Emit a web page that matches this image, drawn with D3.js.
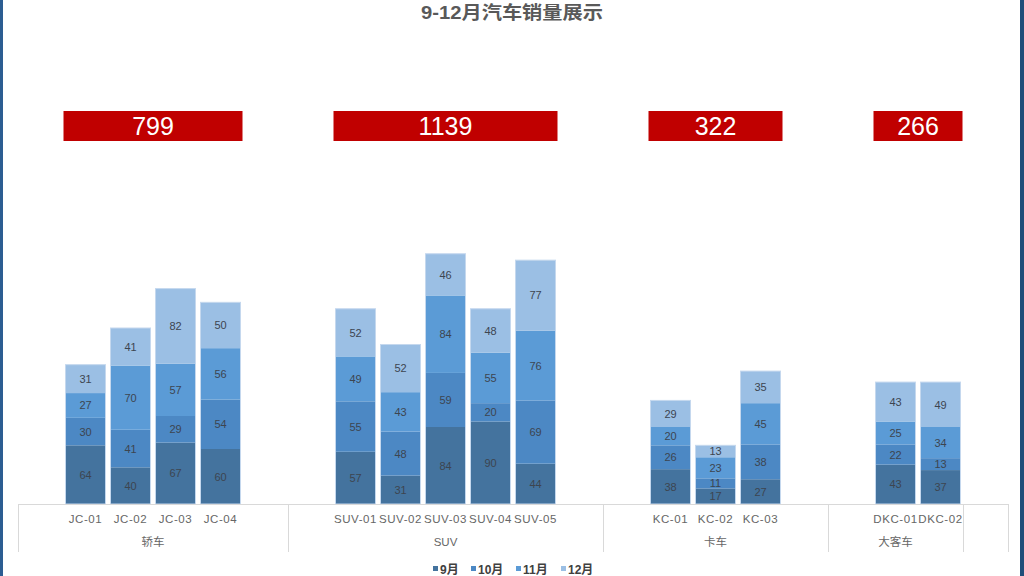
<!DOCTYPE html>
<html>
<head>
<meta charset="utf-8">
<script src="https://cdn.jsdelivr.net/npm/d3@7"></script>
<style>
  html, body { margin: 0; padding: 0; background: #fff; }
  svg { display: block; font-family: "Liberation Sans", Arial, "Noto Sans CJK SC", sans-serif; }
</style>
</head>
<body>
<svg width="1024" height="576"></svg>
<script>
// 9-12月汽车销量展示 -- stacked bars grouped by vehicle type
var svg = d3.select('svg');
var svgWidth = +svg.attr('width');
var svgHeight = +svg.attr('height');

// ---- data ----
var groups = ["轿车", "SUV", "卡车", "大客车"];
var models = [
  ["JC-01", "JC-02", "JC-03", "JC-04"],
  ["SUV-01", "SUV-02", "SUV-03", "SUV-04", "SUV-05"],
  ["KC-01", "KC-02", "KC-03"],
  ["DKC-01", "DKC-02"]
];
var months = ["9月", "10月", "11月", "12月"];
var sep = [64, 40, 67, 60, 57, 31, 84, 90, 44, 38, 17, 27, 43, 37];
var oct = [30, 41, 29, 54, 55, 48, 59, 20, 69, 26, 11, 38, 22, 13];
var nov = [27, 70, 57, 56, 49, 43, 84, 55, 76, 20, 23, 45, 25, 34];
var dec = [31, 41, 82, 50, 52, 52, 46, 48, 77, 29, 13, 35, 43, 49];
var colors = ["#44739e", "#4c88c4", "#5b9bd6", "#9bbfe4"];

// build slot list: blank slot before each group, blank after (last group gets a separate tail slot)
var slots = [];      // {model, idx} or null
var groupSpans = []; // {name, start, end}
var k = 0;
groups.forEach(function (g, gi) {
  var start = slots.length;
  slots.push(null);
  models[gi].forEach(function (m) { slots.push({ model: m, idx: k++ }); });
  if (gi < groups.length - 1) slots.push(null);
  groupSpans.push({ name: g, start: start, end: slots.length });
});
var tailStart = slots.length;
slots.push(null);
groupSpans.push({ name: "", start: tailStart, end: slots.length });

var rows = [];
slots.forEach(function (s, i) {
  if (s) rows.push({ slot: i, model: s.model, "9月": sep[s.idx], "10月": oct[s.idx], "11月": nov[s.idx], "12月": dec[s.idx] });
});

var stacked = d3.stack().keys(months)(rows);

// ---- scales ----
var x = d3.scaleBand().domain(d3.range(slots.length)).range([18, 1008]).padding(0);
var y = d3.scaleLinear().domain([0, 300]).range([504, 229]);
var barPad = 2.5;
var bw = x.bandwidth() - barPad * 2;

// frame borders
svg.append('rect').attr('x', 0).attr('y', 0).attr('width', 3).attr('height', svgHeight).attr('fill', '#2c5d92');
svg.append('rect').attr('x', 1020).attr('y', 0).attr('width', 4).attr('height', svgHeight).attr('fill', '#1f4e79');

// title
svg.append('text')
  .attr('x', 512).attr('y', 19)
  .attr('text-anchor', 'middle')
  .attr('font-size', 18).attr('font-weight', 'bold')
  .attr('fill', '#595959')
  .attr('textLength', 182).attr('lengthAdjust', 'spacingAndGlyphs')
  .text('9-12月汽车销量展示');

// bars
var layer = svg.append('g').selectAll('g')
  .data(stacked)
  .enter().append('g')
  .attr('fill', function (d, i) { return colors[i]; });

layer.selectAll('rect')
  .data(function (d) { return d; })
  .enter().append('rect')
  .attr('x', function (d) { return x(d.data.slot) + barPad; })
  .attr('y', function (d) { return y(d[1]); })
  .attr('width', bw)
  .attr('height', function (d) { return y(d[0]) - y(d[1]); });

// outline of each full bar
svg.append('g').selectAll('rect')
  .data(rows)
  .enter().append('rect')
  .attr('x', function (d) { return x(d.slot) + barPad; })
  .attr('y', function (d) { return y(d3.sum(months, function (m) { return d[m]; })); })
  .attr('width', bw)
  .attr('height', function (d) { return 504 - y(d3.sum(months, function (m) { return d[m]; })); })
  .attr('fill', 'none').attr('stroke', '#c5d8ee').attr('stroke-width', 1);

// segment labels
layer.selectAll('text')
  .data(function (d) { return d; })
  .enter().append('text')
  .attr('x', function (d) { return x(d.data.slot) + x.bandwidth() / 2; })
  .attr('y', function (d) { return (y(d[0]) + y(d[1])) / 2 + 4; })
  .attr('text-anchor', 'middle')
  .attr('font-size', 11)
  .attr('fill', '#3d4550')
  .text(function (d) { return d[1] - d[0]; });

// category axis
var axisCol = '#d9d9d9';
svg.append('line').attr('x1', 18).attr('x2', 1008).attr('y1', 504.5).attr('y2', 504.5).attr('stroke', axisCol);
var bounds = [0].concat(groupSpans.map(function (g) { return g.end; }));
svg.append('g').selectAll('line')
  .data(bounds)
  .enter().append('line')
  .attr('x1', function (b) { return Math.round(18 + b * x.step()) + 0.5; })
  .attr('x2', function (b) { return Math.round(18 + b * x.step()) + 0.5; })
  .attr('y1', 504).attr('y2', 552)
  .attr('stroke', axisCol);

svg.append('g').selectAll('text')
  .data(rows)
  .enter().append('text')
  .attr('x', function (d) { return x(d.slot) + x.bandwidth() / 2; })
  .attr('y', 523)
  .attr('text-anchor', 'middle')
  .attr('font-size', 11.5)
  .attr('letter-spacing', 0.6)
  .attr('fill', '#666')
  .text(function (d) { return d.model; });

svg.append('g').selectAll('text')
  .data(groupSpans.filter(function (g) { return g.name; }))
  .enter().append('text')
  .attr('x', function (g) { return 18 + (g.start + g.end) / 2 * x.step(); })
  .attr('y', 546)
  .attr('text-anchor', 'middle')
  .attr('font-size', 11.5)
  .attr('fill', '#666')
  .text(function (g) { return g.name; });

// group totals in red boxes
var totals = groupSpans.filter(function (g) { return g.name; }).map(function (g) {
  var r = rows.filter(function (d) { return d.slot > g.start && d.slot < g.end; });
  return {
    left: x(r[0].slot) + barPad - 2,
    right: x(r[r.length - 1].slot) + barPad + bw + 2,
    total: d3.sum(r, function (d) { return d3.sum(months, function (m) { return d[m]; }); })
  };
});
var tg = svg.append('g').selectAll('g').data(totals).enter().append('g');
tg.append('rect')
  .attr('x', function (d) { return d.left; })
  .attr('y', 111)
  .attr('width', function (d) { return d.right - d.left; })
  .attr('height', 30)
  .attr('fill', '#c00000');
tg.append('text')
  .attr('x', function (d) { return (d.left + d.right) / 2; })
  .attr('y', 135)
  .attr('text-anchor', 'middle')
  .attr('font-size', 25)
  .attr('fill', '#fff')
  .text(function (d) { return d.total; });

// legend
var legX = [433, 471, 516, 561];
var leg = svg.append('g').selectAll('g')
  .data(months).enter().append('g')
  .attr('transform', function (d, i) { return 'translate(' + legX[i] + ',0)'; });
leg.append('rect').attr('x', 0).attr('y', 566).attr('width', 5).attr('height', 5)
  .attr('fill', function (d, i) { return colors[i]; });
leg.append('text').attr('x', 7).attr('y', 574)
  .attr('font-size', 12).attr('font-weight', 'bold').attr('fill', '#404040')
  .text(function (d) { return d; });
</script>
</body>
</html>
